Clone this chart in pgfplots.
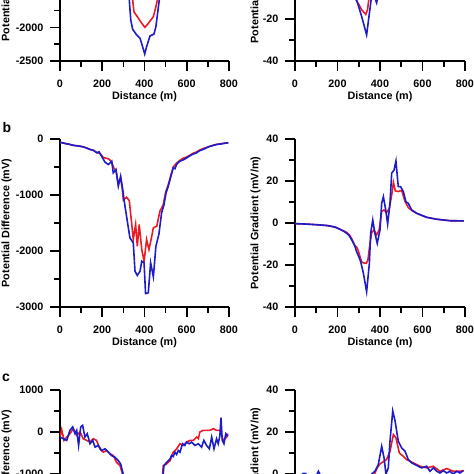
\documentclass[border=0pt]{standalone}
\usepackage{fontspec}
\setmainfont{Liberation Sans}
\usepackage{pgfplots}
\pgfplotsset{compat=1.18}

\definecolor{pred}{RGB}{232,28,36}
\definecolor{pblue}{RGB}{28,28,205}

\newcommand{\panelfont}{\fontsize{10.8}{12}\selectfont\bfseries}

\pgfplotsset{
  panel/.style={
    scale only axis, width=169pt, height=168pt,
    anchor=south west,
    axis x line*=bottom, axis y line*=left,
    axis line style={-, line width=1.7pt, black},
    tick align=outside,
    major tick length=10pt, minor tick length=6pt,
    tick style={black, line width=1.6pt},
    xmin=0, xmax=800, xtick={0,200,...,800}, minor x tick num=1,
    minor y tick num=1,
    scaled ticks=false,
    /pgf/number format/assume math mode=true,
    /pgf/number format/set thousands separator={},
    ticklabel style={font=\panelfont},
    xticklabel style={anchor=center, inner sep=0pt, yshift=-13pt},
    yticklabel style={anchor=east, inner sep=0pt, xshift=-6.3pt},
    every axis x label/.style={at={(axis description cs:0.5,0)}, anchor=center,
      yshift=-36pt, font=\panelfont},
    xlabel={Distance (m)},
  },
  leftpanel/.style={panel, width=169pt,
    every axis y label/.style={at={(axis description cs:-0.3154,0.5)}, rotate=90,
      anchor=center, font=\panelfont},
    ylabel={Potential Difference (mV)}},
  rightpanel/.style={panel, width=170pt,
    every axis y label/.style={at={(axis description cs:-0.232,0.5)}, rotate=90,
      anchor=center, font=\panelfont},
    ymin=-40, ymax=40, ytick={-40,-20,...,40},
    ylabel={Potential Gradient (mV/m)}},
  rline/.style={color=pred, line width=1.6pt},
  bline/.style={color=pblue, line width=1.6pt},
}

\begin{document}
\begin{tikzpicture}
\useasboundingbox (0pt,0pt) rectangle (474pt,-474pt);
\clip (0pt,0pt) rectangle (474pt,-474pt);

% ---------- row a ----------
\begin{axis}[leftpanel, at={(60pt,-61pt)},
  ymin=-2500, ymax=0, ytick={-2500,-2000,...,0}]
\addplot[rline] coordinates {(0,-45) (100,-100) (200,-250) (250,-480) (300,-950)
  (330,-1350) (344,-1592) (350,-1766) (366,-1840) (387,-1939) (402,-1999)
  (418,-1939) (442,-1840) (454,-1691) (461,-1592) (480,-1150) (520,-750)
  (560,-470) (600,-300) (650,-190) (700,-120) (800,-65)};
\addplot[bline] coordinates {(0,-50) (100,-110) (200,-280) (250,-520) (290,-1000)
  (315,-1350) (328,-1592) (335,-1890) (344,-2028) (363,-2113) (379,-2162)
  (391,-2287) (401,-2396) (410,-2287) (426,-2128) (445,-2098) (454,-1989)
  (464,-1741) (470,-1592) (490,-1200) (520,-800) (560,-500) (600,-320)
  (650,-200) (700,-130) (800,-70)};
\end{axis}

\begin{axis}[rightpanel, at={(295pt,-61pt)}]
\addplot[rline] coordinates {(0,-0.3) (100,-0.8) (200,-2.5) (250,-5) (280,-9.5)
  (288,-11) (300,-13) (314,-15.7) (333,-17.8) (341,-15.7) (347,-11) (360,-6)
  (380,-7) (400,0) (420,5) (445,8) (462,19) (475,15) (500,15) (520,10)
  (550,6) (600,3.5) (700,1.5) (795,0.8)};
\addplot[bline] coordinates {(0,-0.3) (100,-0.8) (200,-2.5) (250,-5) (280,-9)
  (290,-11) (314,-18.9) (337,-27.6) (348,-18.9) (358,-11) (367,-6) (376,-10)
  (384,-12.3) (392,-8) (405,-2) (415,10) (428,4) (440,12) (460,28) (475,29)
  (486,17) (500,16) (520,10) (550,6) (600,3.5) (700,1.5) (795,0.8)};
\end{axis}

% ---------- row b ----------
\begin{axis}[leftpanel, at={(60pt,-307pt)},
  ymin=-3000, ymax=0, ytick={-3000,-2000,...,0}]
\addplot[rline] coordinates {(0,-60) (15,-72) (30,-85) (45,-95) (60,-112) (75,-118)
  (95,-130) (110,-142) (125,-158) (142,-185) (158,-205) (174,-240) (190,-260)
  (205,-330) (220,-345) (233,-360) (245,-420) (255,-520) (265,-560) (276,-800)
  (287,-700) (295,-900) (300,-1090) (315,-1040) (328,-1100) (339,-1497)
  (347,-1795) (358,-1527) (366,-1914) (375,-1527) (387,-1973) (398,-2182)
  (410,-1795) (421,-1973) (431,-1800) (442,-1586) (458,-1557) (473,-1289)
  (489,-1170) (500,-950) (512,-820) (521,-700) (536,-500) (552,-430) (568,-380)
  (585,-340) (600,-320) (615,-290) (630,-255) (647,-230) (660,-200) (675,-175)
  (694,-150) (710,-130) (725,-112) (742,-95) (760,-85) (780,-75) (797,-65)};
\addplot[bline] coordinates {(0,-60) (15,-70) (30,-85) (45,-95) (60,-110) (75,-120)
  (95,-128) (110,-140) (125,-160) (142,-187) (158,-200) (174,-246) (185,-230)
  (197,-307) (213,-414) (229,-455) (245,-396) (252,-604) (265,-545) (276,-843)
  (287,-664) (297,-902) (304,-1110) (315,-1378) (331,-1765) (347,-1855)
  (355,-2360) (366,-2437) (379,-2360) (387,-2182) (398,-2211) (405,-2760)
  (418,-2747) (429,-2211) (442,-2461) (454,-1914) (468,-1705) (481,-1318)
  (492,-1180) (502,-961) (512,-850) (521,-723) (536,-514) (544,-530) (552,-455)
  (560,-420) (568,-396) (585,-370) (600,-336) (615,-300) (630,-270) (647,-246)
  (660,-210) (675,-190) (694,-157) (710,-130) (725,-115) (742,-98) (760,-90)
  (780,-75) (797,-68)};
\end{axis}

\begin{axis}[rightpanel, at={(295pt,-307pt)}]
\addplot[rline] coordinates {(0,-0.3) (50,-0.5) (100,-0.8) (150,-1.2) (190,-2.0)
  (212,-3.0) (230,-3.8) (243,-4.5) (255,-5.5) (267,-7.5) (280,-10.5) (290,-11.5)
  (297,-13) (313,-18.4) (322,-19) (335,-19.2) (343,-17.7) (353,-9.7) (361,-4.6)
  (372,-3.3) (384,-5.7) (396,-3.3) (408,5.5) (419,6.2) (431,5.0) (444,7.0)
  (455,13.3) (463,19.4) (472,15.3) (486,15.0) (502,15.5) (517,10.5) (533,7.3)
  (549,6.0) (573,4.6) (600,3.5) (620,2.7) (667,1.8) (729,1.1) (795,1.0)};
\addplot[bline] coordinates {(0,-0.3) (50,-0.5) (100,-0.8) (150,-1.2) (165,-1.4)
  (190,-2.0) (212,-3.0) (230,-4.0) (243,-4.9) (255,-6.0) (267,-8.1) (280,-10.5)
  (290,-13.7) (300,-16) (309,-18.4) (322,-24) (337,-32.7) (350,-19.2) (356,-4.9)
  (366,1.4) (376,-4.9) (387,-9.7) (400,-3.3) (408,9.4) (416,12.5) (427,6.2)
  (436,-0.5) (447,9.4) (455,23.7) (466,25.2) (475,29.5) (486,17.3) (497,17.3)
  (510,14.9) (522,10.1) (533,9.4) (549,6.2) (573,4.6) (600,3.5) (620,2.7)
  (667,1.8) (729,1.1) (795,1.0)};
\end{axis}

% ---------- row c ----------
\begin{axis}[leftpanel, at={(60pt,-558pt)},
  ymin=-3000, ymax=1000, ytick={-3000,-2000,...,1000}]
\addplot[rline] coordinates {(0,-120) (8,56) (19,-200) (32,-120) (47,-40) (63,80)
  (79,-80) (95,0) (110,-160) (126,-200) (142,-240) (158,-160) (173,-200)
  (189,-400) (205,-480) (221,-440) (237,-520) (252,-560) (268,-720) (284,-800)
  (297,-1016) (320,-1400) (350,-1900) (380,-2200) (410,-2300) (440,-2000)
  (470,-1500) (484,-1100) (489,-800) (505,-760) (521,-680) (536,-480) (552,-400)
  (568,-280) (584,-320) (599,-240) (615,-200) (631,-200) (647,-120) (655,-160)
  (662,0) (678,40) (694,40) (710,40) (726,80) (741,40) (757,40) (773,-200)
  (789,-120) (795,-40)};
\addplot[bline] coordinates {(0,-120) (16,-160) (32,-200) (47,40) (60,120) (71,-40)
  (79,40) (88,-320) (98,120) (107,160) (118,-120) (129,-40) (142,-280) (155,-200)
  (166,-360) (181,-320) (197,-440) (213,-400) (229,-480) (244,-560) (260,-600)
  (276,-680) (287,-760) (300,-1016) (320,-1500) (350,-2100) (380,-2500)
  (410,-2800) (440,-2500) (470,-1800) (487,-1100) (492,-800) (505,-720)
  (521,-640) (528,-560) (536,-584) (544,-480) (552,-536) (560,-440) (568,-480)
  (580,-280) (591,-320) (599,-240) (612,-280) (623,-240) (639,-320) (655,-280)
  (670,-360) (681,-200) (694,-320) (707,-400) (718,-120) (729,-400) (741,-160)
  (749,-280) (757,-80) (762,344) (768,-200) (776,-280) (785,-40) (795,-104)};
\end{axis}

\begin{axis}[rightpanel, at={(295pt,-558pt)}]
\addplot[rline] coordinates {(0,-0.8) (20,-1.5) (40,-0.6) (60,-1.2) (90,-1.5)
  (120,-2) (150,-2.8) (180,-4) (210,-5.5) (240,-7.5) (270,-10) (300,-14)
  (320,-18) (335,-19) (345,-12) (355,-5) (370,-1) (385,2.5) (392,3.7) (400,4.8)
  (431,6.9) (447,10.8) (463,18.8) (475,17.2) (491,10) (510,8.4) (525,6.9)
  (557,5.3) (588,3.7) (620,2.9) (651,3.7) (682,1.3) (714,2.6) (745,1.3)
  (776,1.3) (795,1.6)};
\addplot[bline] coordinates {(0,-0.5) (15,-1.2) (30,-0.4) (40,0.3) (50,0.2)
  (58,-1.0) (75,-1.5) (90,-0.8) (102,-0.4) (110,1.3) (118,-0.3) (130,-2)
  (150,-3) (180,-4) (210,-6) (240,-8) (270,-12) (300,-18) (320,-25) (335,-30)
  (345,-15) (352,-5) (361,0) (376,1.3) (392,4.5) (408,13.2) (419,7.7) (428,0)
  (439,2.9) (447,15.6) (460,30) (471,25.2) (486,15.6) (502,12.4) (518,10.8)
  (533,6.9) (549,5.3) (565,4.5) (580,3.7) (596,2.9) (620,3.7) (635,1.3)
  (651,2.9) (667,1.3) (682,0.5) (698,1.6) (714,0.5) (729,1.3) (745,0)
  (761,1.3) (776,0.5) (792,1.6)};
\end{axis}

% panel letters
\node[font=\fontsize{14}{16}\selectfont\bfseries] at (7pt,-127pt) {b};
\node[font=\fontsize{14}{16}\selectfont\bfseries] at (6pt,-378pt) {c};
\end{tikzpicture}
\end{document}
